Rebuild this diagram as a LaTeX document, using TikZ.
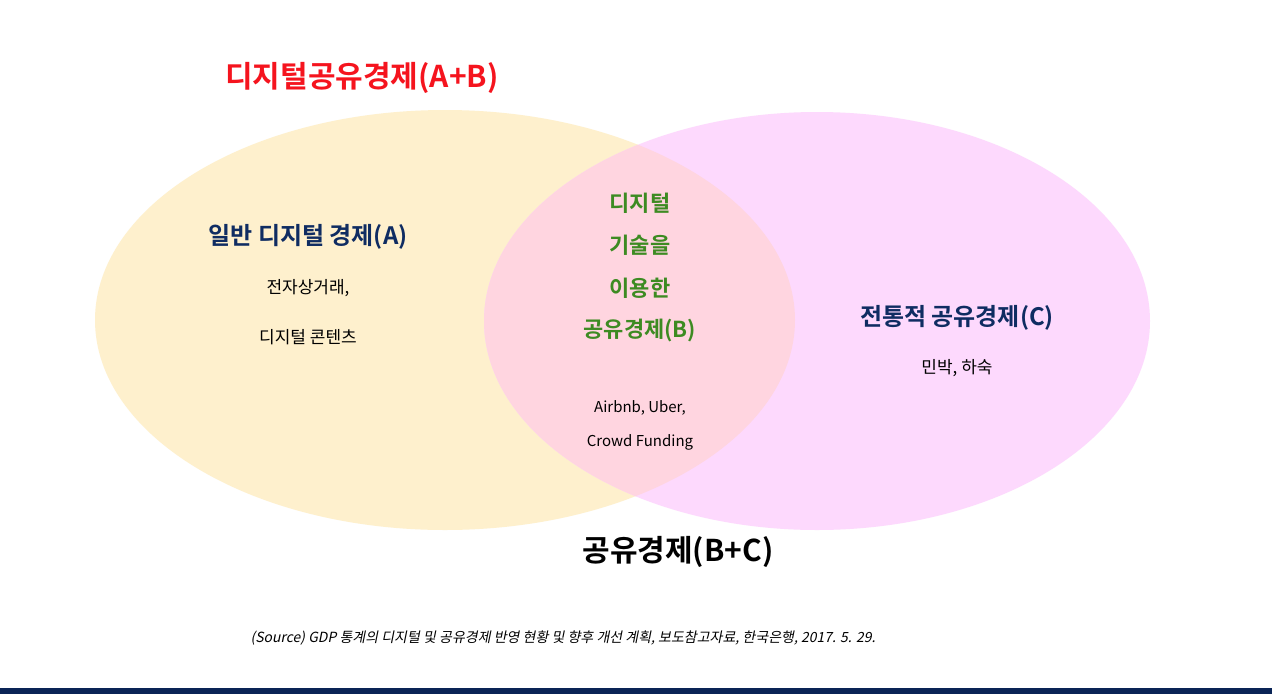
\documentclass[tikz,border=0pt]{standalone}
\usepackage{fontspec}
\setmainfont{Noto Sans CJK KR}
\newfontfamily\krb{Noto Sans CJK KR Bold}
\newfontfamily\krit[FakeSlant=0.2]{Noto Sans CJK KR}
\definecolor{lefty}{HTML}{FEF0CD}
\definecolor{righty}{HTML}{FDD9FD}
\definecolor{mid}{HTML}{FFD5E0}
\definecolor{navy}{HTML}{0F2C62}
\definecolor{grn}{HTML}{3D8B22}
\definecolor{redt}{HTML}{F5141E}
\definecolor{bar}{HTML}{0A2456}
\begin{document}
\begin{tikzpicture}[x=1pt,y=-1pt,
  head/.style={font=\krb\fontsize{24}{28}\selectfont,text=navy},
  item/.style={font=\fontsize{17}{20}\selectfont},
  gr/.style={font=\krb\fontsize{22}{26}\selectfont,text=grn},
  big/.style={font=\krb\fontsize{30}{34}\selectfont}]
\useasboundingbox (0,0) rectangle (1272,694);
\fill[white] (0,0) rectangle (1272,694);
\fill[lefty] (445,320) ellipse [x radius=350,y radius=210];
\fill[righty] (817,321) ellipse [x radius=333,y radius=209];
\begin{scope}
\clip (445,320) ellipse [x radius=350,y radius=210];
\fill[mid] (817,321) ellipse [x radius=333,y radius=209];
\end{scope}
\fill[bar] (0,688) rectangle (1272,694);
\node[big,text=redt] (t1) at (362,78) {디지털공유경제(A+B)};
\node[big] (t2) at (678,552) {공유경제(B+C)};
\node[head] (ha) at (308,237) {일반 디지털 경제(A)};
\node[item] (a1) at (308,288) {전자상거래,};
\node[item] (a2) at (308,337) {디지털 콘텐츠};
\node[gr] (b1) at (640,203) {디지털};
\node[gr] (b2) at (640,245) {기술을};
\node[gr] (b3) at (640,288) {이용한};
\node[gr] (b4) at (640,330) {공유경제(B)};
\node[item,font=\fontsize{15}{18}\selectfont] (b5) at (640,408) {Airbnb, Uber,};
\node[item,font=\fontsize{15}{18}\selectfont] (b6) at (640,442) {Crowd Funding};
\node[head] (hc) at (957,318) {전통적 공유경제(C)};
\node[item] (c1) at (957,368) {민박, 하숙};
\node[font=\krit\fontsize{14}{16}\selectfont] (src) at (563,638) {(Source) GDP 통계의 디지털 및 공유경제 반영 현황 및 향후 개선 계획, 보도참고자료, 한국은행, 2017. 5. 29.};
\end{tikzpicture}
\end{document}
